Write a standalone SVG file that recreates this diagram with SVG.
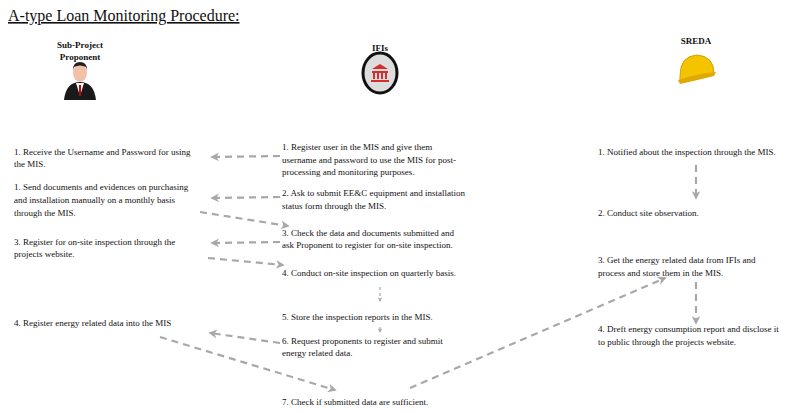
<svg xmlns="http://www.w3.org/2000/svg" width="800" height="413" viewBox="0 0 800 413" font-family="'Liberation Serif','Times New Roman',serif">
<style>
text{font-family:'Liberation Serif','Times New Roman',serif;font-size:9px;fill:#111}
.h{font-weight:bold;text-anchor:middle}
.c{fill:none;stroke:#a8a8a8;stroke-width:2.2;stroke-dasharray:7,5}
</style>
<defs>
<marker id="a" viewBox="0 0 10 10" refX="8" refY="5" markerWidth="4" markerHeight="4" orient="auto"><path d="M0,0L10,5L0,10L3,5Z" fill="#a8a8a8"/></marker>
</defs>
<rect width="800" height="413" fill="#fff"/>
<text x="8" y="21" style="font-size:16px" text-decoration="underline">A-type Loan Monitoring Procedure:</text>
<g id="proponent">
<text class="h" x="80" y="48">Sub-Project</text><text class="h" x="80" y="60">Proponent</text>
<path d="M64,100 Q66,82 80,82 Q94,82 96,100 Z" fill="#1a1a1a"/>
<path d="M76,83 L80,96 L84,83 Z" fill="#fff"/><path d="M79,85 L81,85 L81,95 L79,95Z" fill="#c00"/>
<ellipse cx="80" cy="73" rx="7" ry="9" fill="#f2c2a8"/>
<path d="M73,70 Q73,62 80,62 Q87,62 87,70 L86,67 Q80,64 74,67Z" fill="#222"/>
</g>
<g id="ifis">
<text class="h" x="380" y="51">IFIs</text>
<ellipse cx="380" cy="73" rx="17" ry="20" fill="#ddd" stroke="#111" stroke-width="3"/>
<path d="M372,69 L380,64 L388,69Z M372,71 h16 v2 h-16Z M373,73 h2 v6 h-2Z M377,73 h2 v6 h-2Z M381,73 h2 v6 h-2Z M385,73 h2 v6 h-2Z M371,80 h18 v2 h-18Z" fill="#d32f2f"/>
</g>
<g id="sreda">
<text class="h" x="696" y="44">SREDA</text>
<path d="M680,76 Q680,56 697,55 Q714,56 714,74 Q700,78 680,82 Z" fill="#f5c400" stroke="#d4a000"/>
<path d="M678,80 Q696,74 716,72 L714,76 Q698,80 680,84 Z" fill="#e0a800"/>
</g>
<g id="left">
<text x="14" y="155">1. Receive the Username and Password for using</text><text x="14" y="167">the MIS.</text>
<text x="14" y="190">1. Send documents and evidences on purchasing</text><text x="14" y="203">and installation manually on a monthly basis</text><text x="14" y="216">through the MIS.</text>
<text x="14" y="245">3. Register for on-site inspection through the</text><text x="14" y="257">projects website.</text>
<text x="14" y="326">4. Register energy related data into the MIS</text>
</g>
<g id="middle">
<text x="282" y="150">1. Register user in the MIS and give them</text><text x="282" y="163">username and password to use the MIS for post-</text><text x="282" y="175">processing and monitoring purposes.</text>
<text x="282" y="196">2. Ask to submit EE&amp;C equipment and installation</text><text x="282" y="209">status form through the MIS.</text>
<text x="282" y="236">3. Check the data and documents submitted and</text><text x="282" y="248">ask Proponent to register for on-site inspection.</text>
<text x="282" y="276">4. Conduct on-site inspection on quarterly basis.</text>
<text x="282" y="320">5. Store the inspection reports in the MIS.</text>
<text x="282" y="344">6. Request proponents to register and submit</text><text x="282" y="356">energy related data.</text>
<text x="282" y="405">7. Check if submitted data are sufficient.</text>
</g>
<g id="right">
<text x="598" y="155">1. Notified about the inspection through the MIS.</text>
<text x="598" y="216">2. Conduct site observation.</text>
<text x="598" y="263">3. Get the energy related data from IFIs and</text><text x="598" y="276">process and store them in the MIS.</text>
<text x="598" y="332">4. Dreft energy consumption report and disclose it</text><text x="598" y="345">to public through the projects website.</text>
</g>
<g id="connectors" marker-end="url(#a)">
<path class="c" d="M280,156 L212,157"/>
<path class="c" d="M280,197 L212,198"/>
<path class="c" d="M200,212 L288,226"/>
<path class="c" d="M280,242 L212,243"/>
<path class="c" d="M208,258 L283,265"/>
<path class="c" style="stroke-width:1.2;stroke-dasharray:3,3" d="M380,287 L380,301"/>
<path class="c" style="stroke-width:1.2;stroke-dasharray:3,3" d="M380,327 L380,332"/>
<path class="c" d="M280,343 L210,333"/>
<path class="c" d="M160,337 L335,390"/>
<path class="c" d="M410,388 L665,278"/>
<path class="c" d="M696,165 L696,198"/>
<path class="c" d="M696,282 L696,323"/>
</g>
</svg>
